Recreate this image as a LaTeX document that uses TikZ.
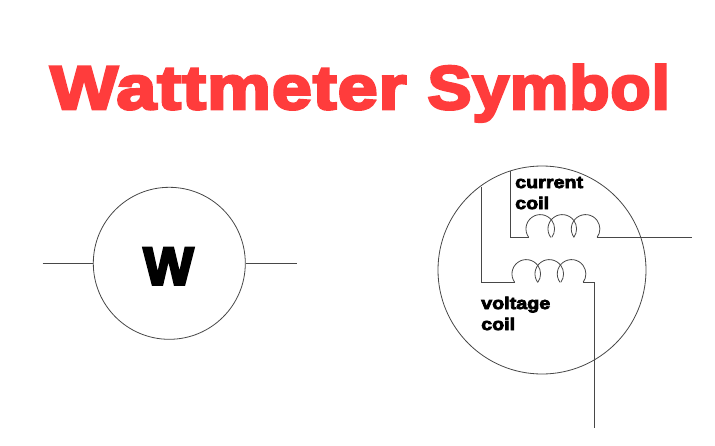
\documentclass[tikz,border=0pt]{standalone}
\usepackage{fontspec}
\setmainfont{Liberation Sans}
\newfontfamily\titlefont{Liberation Sans Bold}[FakeBold=4.5,FakeStretch=1.17,LetterSpace=1.5]
\newfontfamily\titlefontb{Liberation Sans Bold}[FakeBold=4.5,FakeStretch=1.07,LetterSpace=1.5]
\newfontfamily\bigwfont{Liberation Sans Bold}[FakeBold=5,FakeStretch=1.0]
\newfontfamily\labfont{Liberation Sans Bold}[FakeBold=4.5,FakeStretch=1.16]
\definecolor{titlered}{RGB}{255,60,60}
\tikzset{
  wire/.style={draw=black!72,line width=0.8pt},
  meter/.style={circle,draw=black!72,line width=0.8pt,inner sep=0pt},
  lab/.style={font=\fontsize{17}{17}\labfont,anchor=base west,inner sep=0pt,text=black}
}
\begin{document}
\begin{tikzpicture}[x=1pt,y=-1pt]
\useasboundingbox (0,0) rectangle (715,445);
\node[anchor=base,inner sep=0pt,text=titlered,font=\fontsize{61.5}{61.5}\titlefont] (title) at (360,109) {Wattmeter {\titlefontb Symbol}};
% left meter
\node[meter,minimum size=152pt] (m1) at (169.3,263.3) {};
\node[anchor=base,inner sep=0pt,font=\fontsize{53}{53}\bigwfont] (w) at (168.5,284.5) {W};
\coordinate (l1) at (42.5,263.3);
\coordinate (r1) at (296.5,263.3);
\draw[wire] (l1) -- (m1.west);
\draw[wire] (m1.east) -- (r1);
% right meter
\node[meter,minimum size=208pt] (m2) at (542,270) {};
\coordinate (ctop) at (510.3,170.7);
\coordinate (cs) at (510.3,237.3);
\coordinate (c0) at (528.7,237.3);
\coordinate (c1) at (550.7,237.3);
\coordinate (c2) at (574,237.3);
\coordinate (c3) at (596.7,237.3);
\coordinate (cend) at (692.3,237.3);
\draw[wire] (ctop) -- (cs) -- (c0);
\draw[wire] (c0) arc[start angle=216,end angle=-36,x radius=14.3,y radius=-14.3];
\draw[wire] (c1) arc[start angle=216,end angle=-36,x radius=14.3,y radius=-14.3];
\draw[wire] (c2) arc[start angle=216,end angle=-36,x radius=14.3,y radius=-14.3];
\draw[wire] (c3) -- (cend);
\coordinate (vtop) at (481.7,186.7);
\coordinate (vs) at (481.7,282.3);
\coordinate (v0) at (514.7,282.3);
\coordinate (v1) at (537.7,282.3);
\coordinate (v2) at (560,282.3);
\coordinate (v3) at (583.3,282.3);
\coordinate (vc) at (594.3,282.3);
\coordinate (vend) at (594.3,427.7);
\draw[wire] (vtop) -- (vs) -- (v0);
\draw[wire] (v0) arc[start angle=216,end angle=-36,x radius=14.3,y radius=-14.3];
\draw[wire] (v1) arc[start angle=216,end angle=-36,x radius=14.3,y radius=-14.3];
\draw[wire] (v2) arc[start angle=216,end angle=-36,x radius=14.3,y radius=-14.3];
\draw[wire] (v3) -- (vc) -- (vend);
\node[lab] (t1) at (515,188) {current};
\node[lab] (t2) at (515,209) {coil};
\node[lab] (t3) at (481,309) {voltage};
\node[lab] (t4) at (481,330) {coil};
\end{tikzpicture}
\end{document}
